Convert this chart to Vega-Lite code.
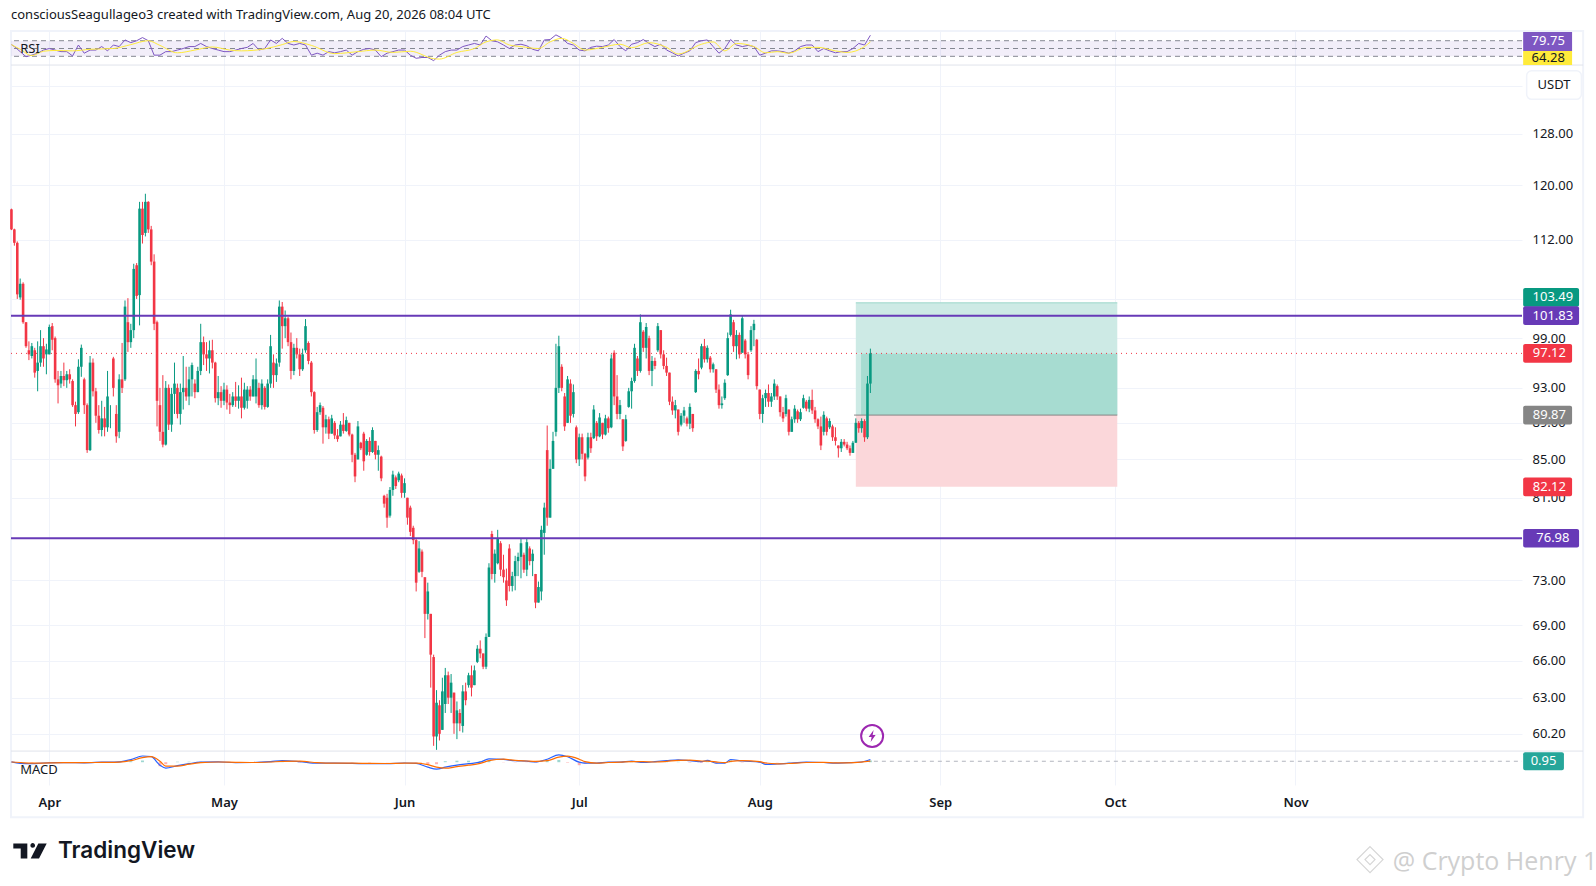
{
"$schema":"https://vega.github.io/schema/vega-lite/v6.json",
"width":1511,"height":754,"autosize":{"type":"none"},
"padding":{"left":11,"top":31,"right":74,"bottom":101},
"background":"#ffffff",
"view":{"stroke":null},
"title":{"text":"consciousSeagullageo3 created with TradingView.com, Aug 20, 2026 08:04 UTC","anchor":"start","frame":"group","offset":8,"font":"Noto Sans","fontSize":13,"fontWeight":"normal","color":"#131722"},
"config":{"text":{"font":"Noto Sans","fontSize":13},"scale":{"continuousPadding":0}},
"datasets":{
"candles":[
{"d":-6.5,"o":116.4,"h":116.5,"l":113.4,"c":113.5},{"d":-6,"o":113.5,"h":113.6,"l":111.2,"c":111.6},{"d":-5.5,"o":111.6,"h":111.8,"l":104,"c":104.6},{"d":-5,"o":104.2,"h":106.7,"l":103.9,"c":106},
{"d":-4.5,"o":106,"h":106.2,"l":100.8,"c":101},{"d":-4,"o":101,"h":101,"l":97.8,"c":98},{"d":-3.5,"o":97.5,"h":98.6,"l":96.3,"c":97},{"d":-3,"o":96.8,"h":98.4,"l":96.5,"c":98},
{"d":-2.5,"o":97.5,"h":97.8,"l":94.2,"c":94.8},{"d":-2,"o":95,"h":98.6,"l":92.6,"c":96},{"d":-1.5,"o":96,"h":100,"l":95.5,"c":98},{"d":-1,"o":98,"h":99,"l":95.5,"c":96.5},
{"d":-0.5,"o":97,"h":98.3,"l":94.6,"c":97.6},{"d":0,"o":97,"h":100.7,"l":97,"c":100.4},{"d":0.5,"o":100.5,"h":100.9,"l":97.5,"c":98.8},{"d":1,"o":99,"h":99.2,"l":93.6,"c":94},
{"d":1.5,"o":94,"h":95,"l":91.2,"c":93.3},{"d":2,"o":93.5,"h":95,"l":93,"c":94.4},{"d":2.5,"o":94.4,"h":96,"l":93.2,"c":93.9},{"d":3,"o":93.9,"h":95,"l":93,"c":94.6},
{"d":3.5,"o":94.6,"h":95.2,"l":93.5,"c":94},{"d":4,"o":93.8,"h":94,"l":90.8,"c":91},{"d":4.5,"o":91,"h":91.4,"l":88.6,"c":90},{"d":5,"o":90.2,"h":96.4,"l":90,"c":95.5},
{"d":5.5,"o":95.5,"h":98.2,"l":94.3,"c":97.8},{"d":6,"o":94,"h":94.2,"l":90,"c":91},{"d":6.5,"o":91,"h":91.2,"l":85.7,"c":86},{"d":7,"o":86,"h":96.8,"l":85.9,"c":96},
{"d":7.5,"o":96,"h":96.5,"l":92,"c":92.6},{"d":8,"o":92.6,"h":93,"l":89,"c":89.8},{"d":8.5,"o":89.8,"h":91,"l":87.8,"c":88.2},{"d":9,"o":88.2,"h":91.5,"l":87.5,"c":89.5},
{"d":9.5,"o":89.5,"h":90.8,"l":87.5,"c":88.5},{"d":10,"o":88.5,"h":95,"l":88,"c":92},{"d":10.5,"o":90,"h":91,"l":88.4,"c":90},{"d":11,"o":96.5,"h":96.7,"l":92,"c":93},
{"d":11.5,"o":90,"h":91,"l":86.8,"c":87.5},{"d":12,"o":88,"h":94.6,"l":87.3,"c":94},{"d":12.5,"o":94,"h":98.4,"l":92.4,"c":93},{"d":13,"o":94,"h":103.8,"l":93.8,"c":103},
{"d":13.5,"o":101,"h":104.1,"l":97.3,"c":98.5},{"d":14,"o":98.5,"h":100.8,"l":97.8,"c":100},{"d":14.5,"o":100,"h":108.7,"l":99,"c":108},{"d":15,"o":108.5,"h":108.8,"l":104,"c":104.4},
{"d":15.5,"o":104.5,"h":117.5,"l":100.6,"c":116.5},{"d":16,"o":116.5,"h":117.5,"l":111.5,"c":112.7},{"d":16.5,"o":113,"h":118.7,"l":112.5,"c":117.5},{"d":17,"o":117.5,"h":117.6,"l":113,"c":113.5},
{"d":17.5,"o":113.5,"h":114,"l":108.5,"c":109},{"d":18,"o":109,"h":110,"l":100,"c":100.8},{"d":18.5,"o":101,"h":101.2,"l":88.6,"c":91.5},{"d":19,"o":91,"h":93,"l":87,"c":88},
{"d":19.5,"o":88,"h":94.5,"l":86.3,"c":86.6},{"d":20,"o":86.6,"h":93.8,"l":86.5,"c":93},{"d":20.5,"o":93,"h":93.4,"l":88.2,"c":88.8},{"d":21,"o":88.8,"h":93,"l":88,"c":92.3},
{"d":21.5,"o":92.3,"h":96,"l":90,"c":93.5},{"d":22,"o":93,"h":93.5,"l":89.5,"c":90},{"d":22.5,"o":90,"h":93.5,"l":88.8,"c":92.5},{"d":23,"o":92.5,"h":96.8,"l":90.5,"c":93},
{"d":23.5,"o":93,"h":95.5,"l":91.5,"c":92},{"d":24,"o":92,"h":95.5,"l":91,"c":94},{"d":24.5,"o":94,"h":96,"l":92,"c":95.7},{"d":25,"o":93.5,"h":94,"l":91.8,"c":92.5},
{"d":25.5,"o":92.5,"h":95.5,"l":92.5,"c":95},{"d":26,"o":95,"h":100.8,"l":94.5,"c":98.5},{"d":26.5,"o":98.5,"h":99.2,"l":95.7,"c":97},{"d":27,"o":97,"h":98.5,"l":95,"c":96.5},
{"d":27.5,"o":96.5,"h":98.7,"l":94.7,"c":97.5},{"d":28,"o":97.5,"h":98.8,"l":95.3,"c":96},{"d":28.5,"o":96,"h":96.1,"l":91.3,"c":91.8},{"d":29,"o":91.8,"h":94.4,"l":91,"c":92.5},
{"d":29.5,"o":92.5,"h":93.2,"l":90.7,"c":91.5},{"d":30,"o":91.5,"h":93.6,"l":91,"c":92.8},{"d":30.5,"o":92.8,"h":93.3,"l":90.5,"c":91.3},{"d":31,"o":91.3,"h":92.3,"l":90,"c":91},
{"d":31.5,"o":91,"h":92.5,"l":90.8,"c":92},{"d":32,"o":92,"h":93.7,"l":90.8,"c":91.5},{"d":32.5,"o":91.5,"h":93.3,"l":90.6,"c":92},{"d":33,"o":92,"h":94.2,"l":89.5,"c":90.7},
{"d":33.5,"o":90.7,"h":93.6,"l":90.5,"c":92.8},{"d":34,"o":91.5,"h":93.2,"l":90.6,"c":92.8},{"d":34.5,"o":92.8,"h":93.2,"l":91.5,"c":92},{"d":35,"o":92,"h":94.5,"l":92,"c":94},
{"d":35.5,"o":92,"h":96.5,"l":91.2,"c":94},{"d":36,"o":93,"h":93.6,"l":90.7,"c":91},{"d":36.5,"o":91,"h":94,"l":90.5,"c":93.5},{"d":37,"o":93,"h":93.2,"l":90.5,"c":90.8},
{"d":37.5,"o":90.8,"h":94,"l":90.7,"c":93.5},{"d":38,"o":93.5,"h":99.4,"l":93,"c":98},{"d":38.5,"o":96,"h":97,"l":93,"c":94.5},{"d":39,"o":94.5,"h":96.5,"l":93.7,"c":95.9},
{"d":39.5,"o":96,"h":103.8,"l":95.5,"c":103},{"d":40,"o":103,"h":103.6,"l":97.7,"c":100.5},{"d":40.5,"o":100.5,"h":102.5,"l":99,"c":101.5},{"d":41,"o":101.5,"h":101.7,"l":98,"c":98.5},
{"d":41.5,"o":98.5,"h":99.7,"l":94,"c":95},{"d":42,"o":95,"h":98.3,"l":94.5,"c":97.8},{"d":42.5,"o":97.8,"h":99,"l":96.5,"c":97},{"d":43,"o":97,"h":97.7,"l":94.4,"c":95.2},
{"d":43.5,"o":95.2,"h":97.7,"l":95,"c":97},{"d":44,"o":97.5,"h":101.4,"l":97.2,"c":100.5},{"d":44.5,"o":98.4,"h":98.6,"l":95.8,"c":96.2},{"d":45,"o":96,"h":96.2,"l":92,"c":92.5},
{"d":45.5,"o":92.5,"h":92.6,"l":87.8,"c":88.2},{"d":46,"o":88.2,"h":90.8,"l":88,"c":90.2},{"d":46.5,"o":90.2,"h":91.3,"l":89.9,"c":91},{"d":47,"o":90.7,"h":90.9,"l":86.7,"c":88.5},
{"d":47.5,"o":88.5,"h":89.9,"l":87.8,"c":89.4},{"d":48,"o":89.4,"h":89.7,"l":87.2,"c":87.8},{"d":48.5,"o":87.8,"h":89.9,"l":87.8,"c":89.5},{"d":49,"o":89,"h":89.2,"l":87.2,"c":87.6},
{"d":49.5,"o":87.6,"h":88.3,"l":86.9,"c":87.2},{"d":50,"o":87.5,"h":89.2,"l":87.5,"c":88.8},{"d":50.5,"o":88.8,"h":90.1,"l":87.8,"c":88.1},{"d":51,"o":88.1,"h":89.7,"l":88,"c":89.3},
{"d":51.5,"o":89,"h":89,"l":87.5,"c":87.7},{"d":52,"o":87.7,"h":87.8,"l":84.7,"c":85.5},{"d":52.5,"o":85.5,"h":85.7,"l":82.6,"c":83.2},{"d":53,"o":85,"h":89.2,"l":85,"c":88.6},
{"d":53.5,"o":86.8,"h":86.9,"l":86,"c":86.2},{"d":54,"o":87.8,"h":88,"l":83.8,"c":84.8},{"d":54.5,"o":85.5,"h":87.2,"l":85.4,"c":87},{"d":55,"o":87,"h":87.4,"l":85.4,"c":85.8},
{"d":55.5,"o":85.8,"h":88.5,"l":85.7,"c":88.2},{"d":56,"o":87,"h":87,"l":85,"c":85.5},{"d":56.5,"o":85.5,"h":86.5,"l":83.8,"c":86},{"d":57,"o":85.3,"h":85.4,"l":82.7,"c":83},
{"d":57.5,"o":81.2,"h":81.3,"l":80,"c":80.4},{"d":58,"o":81,"h":81.4,"l":78,"c":79},{"d":58.5,"o":79.2,"h":82.1,"l":79,"c":81.8},{"d":59,"o":81.8,"h":83.8,"l":81.2,"c":83.4},
{"d":59.5,"o":83.1,"h":83.3,"l":81.9,"c":82.2},{"d":60,"o":82.8,"h":83.7,"l":82.6,"c":83.5},{"d":60.5,"o":83.3,"h":83.5,"l":81,"c":81.5},{"d":61,"o":81.5,"h":83,"l":81,"c":82.5},
{"d":61.5,"o":81,"h":81,"l":78.3,"c":79},{"d":62,"o":80,"h":80.2,"l":77.2,"c":77.6},{"d":62.5,"o":78,"h":78.2,"l":76.4,"c":76.8},{"d":63,"o":76.8,"h":77,"l":72,"c":72.8},
{"d":63.5,"o":73.8,"h":76.7,"l":73.7,"c":76},{"d":64,"o":75.7,"h":75.9,"l":73.3,"c":73.8},{"d":64.5,"o":73.3,"h":73.3,"l":67.9,"c":70},{"d":65,"o":70,"h":72.8,"l":69.5,"c":72},
{"d":65.5,"o":70,"h":70,"l":63.8,"c":66.5},{"d":66,"o":66.3,"h":66.5,"l":59.3,"c":60},{"d":66.5,"o":60,"h":63.6,"l":59,"c":62.6},{"d":67,"o":62.4,"h":62.8,"l":59.7,"c":60.2},
{"d":67.5,"o":60.5,"h":64.6,"l":60.5,"c":63.5},{"d":68,"o":62.5,"h":65.4,"l":61.8,"c":64.8},{"d":68.5,"o":64.8,"h":65.1,"l":62.5,"c":63},{"d":69,"o":63,"h":64.9,"l":61.8,"c":64.2},
{"d":69.5,"o":63.4,"h":63.4,"l":60.2,"c":61},{"d":70,"o":61,"h":62.7,"l":59.8,"c":62},{"d":70.5,"o":61.8,"h":62.1,"l":60.4,"c":61},{"d":71,"o":60.8,"h":64,"l":60.3,"c":63.5},
{"d":71.5,"o":63.5,"h":64.2,"l":62.4,"c":62.8},{"d":72,"o":64,"h":65,"l":63.8,"c":64.8},{"d":72.5,"o":64.8,"h":65.6,"l":63.1,"c":63.8},{"d":73,"o":64,"h":65.6,"l":64,"c":65.2},
{"d":73.5,"o":65.9,"h":67.3,"l":65.8,"c":67},{"d":74,"o":67,"h":67.7,"l":66.2,"c":66.6},{"d":74.5,"o":66.6,"h":66.6,"l":65.3,"c":65.5},{"d":75,"o":65.5,"h":68.3,"l":65.3,"c":68},
{"d":75.5,"o":68,"h":74.6,"l":68,"c":74.2},{"d":76,"o":77.4,"h":77.7,"l":73.1,"c":73.6},{"d":76.5,"o":73.6,"h":75.9,"l":72.8,"c":75.5},{"d":77,"o":74.6,"h":77.8,"l":74.5,"c":77},
{"d":77.5,"o":76.5,"h":76.7,"l":73.4,"c":74},{"d":78,"o":74,"h":75.4,"l":72.8,"c":73.3},{"d":78.5,"o":73,"h":74.1,"l":70.7,"c":71.2},{"d":79,"o":76,"h":76.4,"l":72,"c":72.5},
{"d":79.5,"o":72.5,"h":73.8,"l":72,"c":73.4},{"d":80,"o":73.4,"h":75.3,"l":72.1,"c":74.8},{"d":80.5,"o":74.8,"h":75.6,"l":73.4,"c":75.2},{"d":81,"o":75.2,"h":77,"l":73.2,"c":76.5},
{"d":81.5,"o":75.4,"h":75.6,"l":73.7,"c":74},{"d":82,"o":74,"h":77,"l":73.4,"c":76.6},{"d":82.5,"o":76,"h":76.2,"l":74.4,"c":74.8},{"d":83,"o":74.8,"h":75.9,"l":73.4,"c":75.5},
{"d":83.5,"o":73.6,"h":73.6,"l":70.5,"c":71},{"d":84,"o":71,"h":72.9,"l":71,"c":72.4},{"d":84.5,"o":72,"h":78.2,"l":71.2,"c":77.8},{"d":85,"o":77.5,"h":80.5,"l":75.4,"c":80},
{"d":85.5,"o":86,"h":88.7,"l":78.2,"c":79},{"d":86,"o":79,"h":85,"l":79,"c":84},{"d":86.5,"o":84,"h":88,"l":84,"c":87},{"d":87,"o":88,"h":98.3,"l":87.5,"c":93},
{"d":87.5,"o":93,"h":99.3,"l":92.4,"c":98},{"d":88,"o":95.5,"h":95.8,"l":92.6,"c":93},{"d":88.5,"o":92,"h":92.4,"l":88.1,"c":88.6},{"d":89,"o":89,"h":94.4,"l":89,"c":94},
{"d":89.5,"o":93.5,"h":94,"l":89,"c":89.8},{"d":90,"o":90,"h":93.4,"l":89.6,"c":92.5},{"d":90.5,"o":88.5,"h":88.7,"l":84.6,"c":85},{"d":91,"o":85,"h":87.8,"l":84.3,"c":87.4},
{"d":91.5,"o":87.4,"h":87.8,"l":85,"c":85.6},{"d":92,"o":85.6,"h":85.7,"l":82.7,"c":83.2},{"d":92.5,"o":85.2,"h":87.9,"l":85,"c":87.4},{"d":93,"o":87.4,"h":87.9,"l":85.7,"c":86.2},
{"d":93.5,"o":87.3,"h":91,"l":87.2,"c":90.5},{"d":94,"o":89,"h":89.2,"l":87,"c":87.5},{"d":94.5,"o":87.5,"h":90.1,"l":87.4,"c":89.6},{"d":95,"o":89,"h":89,"l":87.2,"c":87.7},
{"d":95.5,"o":87.7,"h":89.9,"l":87.6,"c":89.5},{"d":96,"o":89.5,"h":89.7,"l":87.9,"c":88.4},{"d":96.5,"o":88.5,"h":97,"l":88.4,"c":96.5},{"d":97,"o":97.2,"h":97.5,"l":91,"c":92},
{"d":97.5,"o":92,"h":94.5,"l":89.4,"c":90},{"d":98,"o":90,"h":91.6,"l":89.4,"c":91},{"d":98.5,"o":89.4,"h":89.4,"l":85.9,"c":86.4},{"d":99,"o":87,"h":89.9,"l":86.9,"c":89.4},
{"d":99.5,"o":90.8,"h":93,"l":90.7,"c":92.6},{"d":100,"o":92.6,"h":94.2,"l":90.6,"c":93.8},{"d":100.5,"o":93.8,"h":98.3,"l":93.6,"c":97.8},{"d":101,"o":96.5,"h":96.8,"l":94.4,"c":95},
{"d":101.5,"o":95,"h":102,"l":94.8,"c":101},{"d":102,"o":99.8,"h":100,"l":97.3,"c":97.8},{"d":102.5,"o":97.8,"h":100.9,"l":96.5,"c":100.4},{"d":103,"o":99,"h":99.3,"l":94.5,"c":95},
{"d":103.5,"o":95,"h":96.8,"l":93.2,"c":96.2},{"d":104,"o":96.2,"h":96.6,"l":95.2,"c":95.6},{"d":104.5,"o":97.5,"h":100.9,"l":97.3,"c":100.5},{"d":105,"o":100,"h":100,"l":96.5,"c":97},
{"d":105.5,"o":97,"h":97.5,"l":95.2,"c":95.6},{"d":106,"o":95.6,"h":96.6,"l":94.4,"c":94.8},{"d":106.5,"o":94.8,"h":94.8,"l":91,"c":91.4},{"d":107,"o":91.4,"h":92,"l":89.9,"c":90.4},
{"d":107.5,"o":90.4,"h":91.6,"l":89.5,"c":91},{"d":108,"o":90.5,"h":90.5,"l":87.6,"c":88},{"d":108.5,"o":88.8,"h":90.1,"l":88.6,"c":89.8},{"d":109,"o":89.8,"h":90.8,"l":89,"c":90.4},
{"d":109.5,"o":89.5,"h":89.7,"l":88.6,"c":88.9},{"d":110,"o":88.9,"h":91.2,"l":88.3,"c":90.8},{"d":110.5,"o":90,"h":90,"l":88,"c":88.4},{"d":111,"o":92.5,"h":95.2,"l":92.4,"c":95},
{"d":111.5,"o":95,"h":96.5,"l":94,"c":94.6},{"d":112,"o":95.4,"h":98.3,"l":95.2,"c":98},{"d":112.5,"o":98,"h":98.9,"l":96,"c":96.4},{"d":113,"o":96.4,"h":98.1,"l":96,"c":97.8},
{"d":113.5,"o":96.6,"h":96.8,"l":94.8,"c":95.2},{"d":114,"o":95.2,"h":96,"l":94.8,"c":95.8},{"d":114.5,"o":95.2,"h":95.2,"l":92.4,"c":92.8},{"d":115,"o":92.8,"h":93.4,"l":90.6,"c":91},
{"d":115.5,"o":91,"h":92,"l":90.6,"c":91.2},{"d":116,"o":91.8,"h":94,"l":91.6,"c":93.6},{"d":116.5,"o":94.5,"h":99.7,"l":94.4,"c":99},{"d":117,"o":99.4,"h":102.6,"l":99.2,"c":102},
{"d":117.5,"o":101,"h":101.3,"l":97.3,"c":98},{"d":118,"o":98,"h":100,"l":96.4,"c":99.4},{"d":118.5,"o":99.4,"h":99.7,"l":96.5,"c":97},{"d":119,"o":97.2,"h":101.9,"l":97.2,"c":101.5},
{"d":119.5,"o":98.7,"h":98.9,"l":96.5,"c":97},{"d":120,"o":97,"h":97.3,"l":94,"c":94.5},{"d":120.5,"o":97.5,"h":100.5,"l":97.3,"c":100},{"d":121,"o":100,"h":101.3,"l":98,"c":100.8},
{"d":121.5,"o":98.8,"h":98.9,"l":92.8,"c":93.2},{"d":122,"o":92.8,"h":92.8,"l":89.4,"c":90},{"d":122.5,"o":90,"h":92.2,"l":89,"c":91.8},{"d":123,"o":91.8,"h":92.8,"l":90.8,"c":92.4},
{"d":123.5,"o":92.4,"h":93.4,"l":90.8,"c":91.4},{"d":124,"o":91.4,"h":92.4,"l":90.8,"c":92},{"d":124.5,"o":92,"h":94,"l":91.6,"c":93.5},{"d":125,"o":93.2,"h":93.4,"l":91.6,"c":92},
{"d":125.5,"o":92,"h":92,"l":89.7,"c":90.2},{"d":126,"o":90.2,"h":90.8,"l":89.1,"c":89.5},{"d":126.5,"o":90,"h":92.2,"l":89.7,"c":91.8},{"d":127,"o":90.5,"h":90.5,"l":87.6,"c":88},
{"d":127.5,"o":88,"h":89.7,"l":88,"c":89.4},{"d":128,"o":89.4,"h":91,"l":89,"c":90.6},{"d":128.5,"o":90.3,"h":90.5,"l":89,"c":89.4},{"d":129,"o":89.4,"h":90.6,"l":89.2,"c":90.2},
{"d":129.5,"o":90.7,"h":92.2,"l":90.6,"c":91.8},{"d":130,"o":91.4,"h":91.6,"l":90.3,"c":90.6},{"d":130.5,"o":90.6,"h":92,"l":90.2,"c":91.6},{"d":131,"o":91.6,"h":92.8,"l":90,"c":90.4},
{"d":131.5,"o":90.4,"h":90.8,"l":89,"c":89.4},{"d":132,"o":89.4,"h":89.5,"l":88.3,"c":88.6},{"d":132.5,"o":88.6,"h":89.7,"l":86,"c":86.5},{"d":133,"o":88,"h":90.3,"l":87.6,"c":89.9},
{"d":133.5,"o":89.5,"h":89.7,"l":87.6,"c":88},{"d":134,"o":88.5,"h":89.5,"l":88.3,"c":89.2},{"d":134.5,"o":88.6,"h":88.8,"l":87,"c":87.4},{"d":135,"o":87.4,"h":88.5,"l":86.5,"c":87},
{"d":135.5,"o":86.5,"h":86.5,"l":85.2,"c":86.2},{"d":136,"o":86.2,"h":87.2,"l":85.8,"c":86.9},{"d":136.5,"o":86.9,"h":87.2,"l":86.4,"c":86.6},{"d":137,"o":86.6,"h":86.9,"l":86,"c":86.2},
{"d":137.5,"o":86.2,"h":86.5,"l":85.4,"c":85.7},{"d":138,"o":85.7,"h":87,"l":85.7,"c":86.8},{"d":138.5,"o":86.8,"h":89.5,"l":86.8,"c":89},{"d":139,"o":89,"h":89.2,"l":87.9,"c":88.4},
{"d":139.5,"o":88.4,"h":89.5,"l":87.9,"c":89.2},{"d":140,"o":89.2,"h":89.4,"l":86.9,"c":87.4},{"d":140.5,"o":87.4,"h":94.4,"l":87.2,"c":93.5},{"d":141,"o":93.5,"h":97.7,"l":92.4,"c":97.12}
],
"rsi":[
{"d":-6.5,"r":60},{"d":-6,"r":55},{"d":-5,"r":42},{"d":-4,"r":29},{"d":-3,"r":33},{"d":-2,"r":38},{"d":-1,"r":46},{"d":0,"r":50},{"d":1,"r":46},{"d":2,"r":42},{"d":3,"r":42},{"d":4,"r":31},{"d":5,"r":59},{"d":6,"r":38},{"d":7,"r":46},{"d":8,"r":46},{"d":9,"r":55},{"d":10,"r":44},{"d":11,"r":59},{"d":12,"r":55},{"d":13,"r":72},{"d":14,"r":65},{"d":15,"r":70},{"d":16,"r":78},{"d":17,"r":70},{"d":18,"r":33},{"d":19,"r":33},{"d":20,"r":42},{"d":21,"r":42},{"d":22,"r":46},{"d":23,"r":50},{"d":24,"r":55},{"d":25,"r":55},{"d":26,"r":63},{"d":27,"r":55},{"d":28,"r":50},{"d":29,"r":46},{"d":30,"r":42},{"d":31,"r":42},{"d":32,"r":46},{"d":33,"r":50},{"d":34,"r":53},{"d":35,"r":63},{"d":36,"r":46},{"d":37,"r":50},{"d":38,"r":72},{"d":39,"r":63},{"d":40,"r":76},{"d":41,"r":63},{"d":42,"r":59},{"d":43,"r":63},{"d":44,"r":59},{"d":45,"r":33},{"d":46,"r":38},{"d":47,"r":33},{"d":48,"r":42},{"d":49,"r":39},{"d":50,"r":42},{"d":51,"r":46},{"d":52,"r":33},{"d":53,"r":42},{"d":54,"r":48},{"d":55,"r":50},{"d":56,"r":46},{"d":57,"r":29},{"d":58,"r":38},{"d":59,"r":42},{"d":60,"r":46},{"d":61,"r":46},{"d":62,"r":33},{"d":63,"r":25},{"d":64,"r":27},{"d":65,"r":27},{"d":66,"r":19},{"d":67,"r":33},{"d":68,"r":42},{"d":69,"r":46},{"d":70,"r":46},{"d":71,"r":55},{"d":72,"r":59},{"d":73,"r":63},{"d":74,"r":59},{"d":75,"r":82},{"d":76,"r":70},{"d":77,"r":67},{"d":78,"r":59},{"d":79,"r":50},{"d":80,"r":59},{"d":81,"r":61},{"d":82,"r":57},{"d":83,"r":48},{"d":84,"r":44},{"d":85,"r":72},{"d":86,"r":73},{"d":87,"r":85},{"d":88,"r":77},{"d":89,"r":63},{"d":90,"r":59},{"d":91,"r":46},{"d":92,"r":44},{"d":93,"r":53},{"d":94,"r":56},{"d":95,"r":55},{"d":96,"r":59},{"d":97,"r":73},{"d":98,"r":55},{"d":99,"r":44},{"d":100,"r":61},{"d":101,"r":65},{"d":102,"r":73},{"d":103,"r":63},{"d":104,"r":55},{"d":105,"r":61},{"d":106,"r":46},{"d":107,"r":39},{"d":108,"r":31},{"d":109,"r":38},{"d":110,"r":44},{"d":111,"r":65},{"d":112,"r":70},{"d":113,"r":72},{"d":114,"r":55},{"d":115,"r":38},{"d":116,"r":50},{"d":117,"r":73},{"d":118,"r":59},{"d":119,"r":55},{"d":120,"r":58},{"d":121,"r":55},{"d":122,"r":33},{"d":123,"r":38},{"d":124,"r":44},{"d":125,"r":44},{"d":126,"r":42},{"d":127,"r":38},{"d":128,"r":44},{"d":129,"r":55},{"d":130,"r":59},{"d":131,"r":59},{"d":132,"r":42},{"d":133,"r":50},{"d":134,"r":44},{"d":135,"r":39},{"d":136,"r":42},{"d":137,"r":42},{"d":138,"r":50},{"d":139,"r":63},{"d":140,"r":59},{"d":141,"r":84}
],
"rsima":[
{"d":-6.5,"m":60},{"d":-5,"m":48},{"d":-3,"m":32},{"d":-1,"m":43},{"d":1,"m":45},{"d":4,"m":44},{"d":7,"m":48},{"d":11,"m":50},{"d":14,"m":60},{"d":17,"m":70},{"d":19,"m":58},{"d":22,"m":39},{"d":25,"m":46},{"d":28,"m":54},{"d":31,"m":46},{"d":33,"m":44},{"d":37,"m":49},{"d":40,"m":60},{"d":42,"m":68},{"d":45,"m":58},{"d":49,"m":37},{"d":53,"m":42},{"d":56,"m":46},{"d":59,"m":40},{"d":62,"m":43},{"d":66,"m":24},{"d":67,"m":23},{"d":70,"m":40},{"d":73,"m":50},{"d":75,"m":67},{"d":77,"m":72},{"d":79,"m":59},{"d":81,"m":55},{"d":84,"m":50},{"d":86,"m":67},{"d":88,"m":76},{"d":90,"m":63},{"d":92,"m":46},{"d":95,"m":53},{"d":98,"m":61},{"d":100,"m":52},{"d":103,"m":65},{"d":106,"m":53},{"d":108,"m":36},{"d":112,"m":61},{"d":114,"m":67},{"d":116,"m":44},{"d":118,"m":63},{"d":121,"m":55},{"d":123,"m":39},{"d":125,"m":42},{"d":127,"m":38},{"d":130,"m":53},{"d":132,"m":53},{"d":135,"m":44},{"d":137,"m":40},{"d":140,"m":55},{"d":141,"m":67}
],
"macd":[
{"d":-6.5,"m":0.3,"s":0.2,"h":0.1},{"d":-5,"m":-1.2,"s":-0.3,"h":-0.9},{"d":-3,"m":-1.5,"s":-1,"h":-0.5},{"d":-1,"m":-0.8,"s":-0.9,"h":0.1},{"d":1,"m":-0.5,"s":-0.6,"h":0.1},{"d":3,"m":-0.4,"s":-0.5,"h":0.1},{"d":6,"m":-0.6,"s":-0.4,"h":-0.2},{"d":9,"m":0,"s":-0.2,"h":0.2},{"d":12,"m":0.4,"s":0.1,"h":0.3},{"d":14,"m":2.5,"s":1.5,"h":1},{"d":16,"m":6.2,"s":4.5,"h":1.7},{"d":17.5,"m":5.5,"s":5.5,"h":0},{"d":19,"m":-3,"s":1,"h":-4},{"d":20,"m":-6,"s":-4,"h":-2},{"d":22,"m":-3.5,"s":-4,"h":0.5},{"d":24,"m":-1.5,"s":-2,"h":0.5},{"d":26,"m":0,"s":-0.5,"h":0.5},{"d":29,"m":0.3,"s":0.2,"h":0.1},{"d":32,"m":-0.4,"s":-0.1,"h":-0.3},{"d":35,"m":-0.3,"s":-0.3,"h":0},{"d":38,"m":0.6,"s":0.2,"h":0.4},{"d":40,"m":1.6,"s":0.8,"h":0.8},{"d":43,"m":0.6,"s":1,"h":-0.4},{"d":46,"m":-1,"s":-0.5,"h":-0.5},{"d":49,"m":-1,"s":-1,"h":0},{"d":52,"m":-1.2,"s":-1,"h":-0.2},{"d":55,"m":-1.5,"s":-1.2,"h":-0.3},{"d":58,"m":-1.5,"s":-1.3,"h":-0.2},{"d":61,"m":-0.8,"s":-1,"h":0.2},{"d":63,"m":-1.2,"s":-1,"h":-0.2},{"d":65,"m":-5,"s":-2.5,"h":-2.5},{"d":66.5,"m":-7,"s":-5,"h":-2},{"d":68,"m":-5,"s":-6,"h":1},{"d":70,"m":-3,"s":-4.5,"h":1.5},{"d":72,"m":-1.5,"s":-3,"h":1.5},{"d":74,"m":0,"s":-1.2,"h":1.2},{"d":75.5,"m":3.4,"s":1.5,"h":1.9},{"d":78,"m":2.8,"s":3,"h":-0.2},{"d":80,"m":1.5,"s":1.8,"h":-0.3},{"d":82,"m":1,"s":1.2,"h":-0.2},{"d":83.5,"m":0.2,"s":0.8,"h":-0.6},{"d":85.5,"m":3,"s":1.5,"h":1.5},{"d":87.5,"m":7.3,"s":5,"h":2.3},{"d":89,"m":5.5,"s":6,"h":-0.5},{"d":91,"m":0,"s":3,"h":-3},{"d":92,"m":-1,"s":0.5,"h":-1.5},{"d":94,"m":-1,"s":-1,"h":0},{"d":96,"m":0,"s":-0.3,"h":0.3},{"d":98,"m":0,"s":0,"h":0},{"d":100,"m":1,"s":0.5,"h":0.5},{"d":102,"m":-0.3,"s":0.5,"h":-0.8},{"d":104,"m":0.5,"s":0.2,"h":0.3},{"d":106,"m":1.5,"s":0.8,"h":0.7},{"d":108,"m":2.3,"s":1.8,"h":0.5},{"d":110,"m":1.5,"s":2,"h":-0.5},{"d":112,"m":0.5,"s":1.2,"h":-0.7},{"d":113,"m":1.8,"s":1,"h":0.8},{"d":114.5,"m":-1,"s":0.3,"h":-1.3},{"d":116,"m":-1,"s":-0.5,"h":-0.5},{"d":117,"m":2.7,"s":0.8,"h":1.9},{"d":119,"m":1.2,"s":1.6,"h":-0.4},{"d":122,"m":0,"s":0.6,"h":-0.6},{"d":123,"m":-2.3,"s":-0.8,"h":-1.5},{"d":125,"m":-1.8,"s":-1.6,"h":-0.2},{"d":127,"m":-1,"s":-1.3,"h":0.3},{"d":130,"m":0,"s":-0.3,"h":0.3},{"d":133,"m":-0.3,"s":-0.2,"h":-0.1},{"d":135,"m":-1,"s":-0.6,"h":-0.4},{"d":137,"m":-0.5,"s":-0.6,"h":0.1},{"d":139.4,"m":0.2,"s":0,"h":0.2},{"d":141,"m":2.7,"s":1,"h":1.7}
],
"wideBadges":[{"at":104.21,"label":"103.49","k":"target"},{"at":101.83,"label":"101.83","k":"level"},{"at":76.98,"label":"76.98","k":"level"}],
"narrowBadges":[{"at":97.12,"label":"97.12","k":"last"},{"at":89.87,"label":"89.87","k":"entry"},{"at":82.12,"label":"82.12","k":"last"}]
},
"layer":[
{"layer":[
{"data":{"values":[{}]},"mark":{"type":"rect","fill":"#ffffff","fillOpacity":0,"stroke":"#f0f3fa","strokeWidth":2},
 "encoding":{"x":{"datum":-6.577,"type":"quantitative","title":null,"scale":{"domain":[-6.577,252.9],"nice":false,"zero":false},
   "axis":{"values":[0,30,61,91,122,153,183,214],"labelExpr":"timeFormat(datetime(2026,3,1+datum.value),'%b')","grid":true,"gridColor":"#f0f3fa","domain":false,"ticks":false,"labelPadding":11,"labelFont":"Noto Sans","labelFontSize":13,"labelFontWeight":600,"labelColor":"#131722","title":null}},
  "x2":{"datum":263.4},
  "y":{"datum":54.2,"type":"quantitative","title":null,"scale":{"type":"log","domain":[56.45,145.65],"nice":false},
   "axis":{"orient":"right","values":[136,128,120,112,104,99,93,89,85,81,77,73,69,66,63,60.2],"labelExpr":"indexof([136,104,77],datum.value)>=0?'':format(datum.value,'.2f')","grid":true,"gridColor":"#f0f3fa","domain":false,"ticks":false,"labelPadding":10,"labelFont":"Noto Sans","labelFontSize":13,"labelColor":"#131722","title":null}},
  "y2":{"datum":145.65}}},
{"data":{"values":[{"p":139.55},{"p":58.91}]},"mark":{"type":"rule","stroke":"#e0e3eb","strokeWidth":1},
 "encoding":{"x":{"datum":-6.577,"type":"quantitative","scale":{"domain":[-6.577,252.9],"nice":false,"zero":false}},"x2":{"datum":263.4},
  "y":{"field":"p","type":"quantitative","scale":{"type":"log","domain":[56.45,145.65],"nice":false}}}},
{"data":{"values":[{"a":138.5,"b":183.4,"top":103.49,"bot":97.12,"k":"reward"},{"a":138.5,"b":183.4,"top":97.12,"bot":89.87,"k":"reward"},{"a":139.4,"b":183.4,"top":97.12,"bot":89.87,"k":"open"},{"a":138.5,"b":183.4,"top":89.87,"bot":82.12,"k":"risk"}]},
 "mark":{"type":"rect"},
 "encoding":{"x":{"field":"a","type":"quantitative","scale":{"domain":[-6.577,252.9],"nice":false,"zero":false}},"x2":{"field":"b"},
  "y":{"field":"top","type":"quantitative","scale":{"type":"log","domain":[56.45,145.65],"nice":false}},"y2":{"field":"bot"},
  "color":{"field":"k","type":"nominal","legend":null,"scale":{"domain":["reward","open","risk","target","level","last","entry"],"range":["#cdeae5","#a7dcd1","#fbd7da","#089981","#673ab7","#f23645","#858585"]}}}},
{"data":{"values":[{"p":103.49}]},"mark":{"type":"rule","stroke":"#9bd6ca","strokeWidth":1},
 "encoding":{"x":{"datum":138.5,"type":"quantitative","scale":{"domain":[-6.577,252.9],"nice":false,"zero":false}},"x2":{"datum":183.4},
  "y":{"field":"p","type":"quantitative","scale":{"type":"log","domain":[56.45,145.65],"nice":false}}}},
{"data":{"values":[{"p":89.87}]},"mark":{"type":"rule","stroke":"#858585","strokeWidth":1},
 "encoding":{"x":{"datum":138.2,"type":"quantitative","scale":{"domain":[-6.577,252.9],"nice":false,"zero":false}},"x2":{"datum":183.4},
  "y":{"field":"p","type":"quantitative","scale":{"type":"log","domain":[56.45,145.65],"nice":false}}}},
{"data":{"values":[{"p":97.12}]},"mark":{"type":"rule","stroke":"#f23645","strokeWidth":1,"strokeDash":[1,4]},
 "encoding":{"y":{"field":"p","type":"quantitative","scale":{"type":"log","domain":[56.45,145.65],"nice":false}}}},
{"data":{"name":"candles"},"mark":{"type":"rule","strokeWidth":1},
 "encoding":{"x":{"field":"d","type":"quantitative","scale":{"domain":[-6.577,252.9],"nice":false,"zero":false}},
  "y":{"field":"l","type":"quantitative","scale":{"type":"log","domain":[56.45,145.65],"nice":false}},"y2":{"field":"h"},
  "color":{"condition":{"test":"datum.c>=datum.o","value":"#089981"},"value":"#f23645"}}},
{"data":{"name":"candles"},"mark":{"type":"bar","width":2.6},
 "encoding":{"x":{"field":"d","type":"quantitative","scale":{"domain":[-6.577,252.9],"nice":false,"zero":false}},
  "y":{"field":"o","type":"quantitative","scale":{"type":"log","domain":[56.45,145.65],"nice":false}},"y2":{"field":"c"},
  "color":{"condition":{"test":"datum.c>=datum.o","value":"#089981"},"value":"#f23645"}}},
{"data":{"values":[{"p":101.83},{"p":76.98}]},"mark":{"type":"rule","stroke":"#673ab7","strokeWidth":2},
 "encoding":{"y":{"field":"p","type":"quantitative","scale":{"type":"log","domain":[56.45,145.65],"nice":false}}}},
{"data":{"name":"wideBadges"},"mark":{"type":"bar","height":18.7,"cornerRadius":2},
 "encoding":{"x":{"datum":253.1,"type":"quantitative","scale":{"domain":[-6.577,252.9],"nice":false,"zero":false}},"x2":{"datum":262.7},
  "y":{"field":"at","type":"quantitative","scale":{"type":"log","domain":[56.45,145.65],"nice":false}},
  "color":{"field":"k","type":"nominal","legend":null,"scale":{"domain":["reward","open","risk","target","level","last","entry"],"range":["#cdeae5","#a7dcd1","#fbd7da","#089981","#673ab7","#f23645","#858585"]}}}},
{"data":{"name":"narrowBadges"},"mark":{"type":"bar","height":18.7,"cornerRadius":2},
 "encoding":{"x":{"datum":253.1,"type":"quantitative","scale":{"domain":[-6.577,252.9],"nice":false,"zero":false}},"x2":{"datum":261.5},
  "y":{"field":"at","type":"quantitative","scale":{"type":"log","domain":[56.45,145.65],"nice":false}},
  "color":{"field":"k","type":"nominal","legend":null,"scale":{"domain":["reward","open","risk","target","level","last","entry"],"range":["#cdeae5","#a7dcd1","#fbd7da","#089981","#673ab7","#f23645","#858585"]}}}},
{"data":{"name":"wideBadges"},"mark":{"type":"text","color":"#ffffff"},
 "encoding":{"x":{"datum":258.2,"type":"quantitative","scale":{"domain":[-6.577,252.9],"nice":false,"zero":false}},
  "y":{"field":"at","type":"quantitative","scale":{"type":"log","domain":[56.45,145.65],"nice":false}},"text":{"field":"label"}}},
{"data":{"name":"narrowBadges"},"mark":{"type":"text","color":"#ffffff"},
 "encoding":{"x":{"datum":257.6,"type":"quantitative","scale":{"domain":[-6.577,252.9],"nice":false,"zero":false}},
  "y":{"field":"at","type":"quantitative","scale":{"type":"log","domain":[56.45,145.65],"nice":false}},"text":{"field":"label"}}},
{"data":{"values":[{}]},"mark":{"type":"rect","fill":"#ffffff","stroke":"#f0f3fa","strokeWidth":1.5,"cornerRadius":5},
 "encoding":{"x":{"datum":253.7,"type":"quantitative","scale":{"domain":[-6.577,252.9],"nice":false,"zero":false}},"x2":{"datum":263.1},
  "y":{"datum":138.56,"type":"quantitative","scale":{"type":"log","domain":[56.45,145.65],"nice":false}},"y2":{"datum":133.66}}},
{"data":{"values":[{"label":"USDT"}]},"mark":{"type":"text","color":"#131722"},
 "encoding":{"x":{"datum":258.4,"type":"quantitative","scale":{"domain":[-6.577,252.9],"nice":false,"zero":false}},
  "y":{"datum":136.09,"type":"quantitative","scale":{"type":"log","domain":[56.45,145.65],"nice":false}},"text":{"field":"label"}}},
{"data":{"values":[{}]},"mark":{"type":"point","shape":"circle","filled":false,"stroke":"#9c27b0","strokeWidth":2,"size":484,"opacity":1},
 "encoding":{"x":{"datum":141.3,"type":"quantitative","scale":{"domain":[-6.577,252.9],"nice":false,"zero":false}},
  "y":{"datum":60.04,"type":"quantitative","scale":{"type":"log","domain":[56.45,145.65],"nice":false}}}},
{"data":{"values":[{}]},"mark":{"type":"point","filled":true,"opacity":1,"fill":"#9c27b0","size":4,"shape":"M1.5 -6 L-3.5 1 H-0.5 L-1.5 6 L3.5 -1 H0.5 Z"},
 "encoding":{"x":{"datum":141.3,"type":"quantitative","scale":{"domain":[-6.577,252.9],"nice":false,"zero":false}},
  "y":{"datum":60.04,"type":"quantitative","scale":{"type":"log","domain":[56.45,145.65],"nice":false}}}},
{"data":{"values":[{}]},"mark":{"type":"point","filled":true,"opacity":1,"fill":"#131722","size":4,"shape":"M-17.7 -7.2 H-3.7 V7.8 H-10.3 V-2.2 H-17.7 Z M-0.6 -5.2 A2.3 2.3 0 1 0 4 -5.2 A2.3 2.3 0 1 0 -0.6 -5.2 Z M7.3 -7.2 H15.7 L8 7.8 H-0.3 Z"},
 "encoding":{"x":{"datum":-3.14,"type":"quantitative","scale":{"domain":[-6.577,252.9],"nice":false,"zero":false}},
  "y":{"datum":51.98,"type":"quantitative","scale":{"type":"log","domain":[56.45,145.65],"nice":false}}}},
{"data":{"values":[{"label":"TradingView"}]},"mark":{"type":"text","align":"left","font":"Inter","fontSize":22.5,"fontWeight":600,"color":"#131722"},
 "encoding":{"x":{"datum":1.5,"type":"quantitative","scale":{"domain":[-6.577,252.9],"nice":false,"zero":false}},
  "y":{"datum":51.98,"type":"quantitative","scale":{"type":"log","domain":[56.45,145.65],"nice":false}},"text":{"field":"label"}}},
{"data":{"values":[{"label":"@ Crypto Henry 1"}]},"mark":{"type":"text","align":"left","font":"Open Sans","fontSize":25,"color":"#cfcfcf"},
 "encoding":{"x":{"datum":230.7,"type":"quantitative","scale":{"domain":[-6.577,252.9],"nice":false,"zero":false}},
  "y":{"datum":51.24,"type":"quantitative","scale":{"type":"log","domain":[56.45,145.65],"nice":false}},"text":{"field":"label"}}},
{"data":{"values":[{}]},"mark":{"type":"point","filled":false,"stroke":"#d6d6d6","strokeWidth":1.2,"opacity":1,"size":4,"shape":"M0 -13 L13 0 L0 13 L-13 0 Z M0 -5 L5 0 L0 5 L-5 0 Z"},
 "encoding":{"x":{"datum":226.8,"type":"quantitative","scale":{"domain":[-6.577,252.9],"nice":false,"zero":false}},
  "y":{"datum":51.4,"type":"quantitative","scale":{"type":"log","domain":[56.45,145.65],"nice":false}}}}
]},
{"layer":[
{"data":{"values":[{}]},"mark":{"type":"rect","fill":"#7e57c2","opacity":0.1},
 "encoding":{"y":{"datum":70,"type":"quantitative","axis":null,"scale":{"domain":[-1838,94.9],"nice":false,"zero":false}},"y2":{"datum":30}}},
{"data":{"values":[{"v":70},{"v":50},{"v":30}]},"mark":{"type":"rule","stroke":"#787b86","strokeWidth":1,"strokeDash":[5,4],"opacity":0.9},
 "encoding":{"y":{"field":"v","type":"quantitative","axis":null,"scale":{"domain":[-1838,94.9],"nice":false,"zero":false}}}},
{"data":{"name":"rsi"},"mark":{"type":"line","stroke":"#7e57c2","strokeWidth":1},
 "encoding":{"x":{"field":"d","type":"quantitative","scale":{"domain":[-6.577,252.9],"nice":false,"zero":false}},
  "y":{"field":"r","type":"quantitative","axis":null,"scale":{"domain":[-1838,94.9],"nice":false,"zero":false}}}},
{"data":{"name":"rsima"},"mark":{"type":"line","stroke":"#ffeb3b","strokeWidth":1,"interpolate":"monotone"},
 "encoding":{"x":{"field":"d","type":"quantitative","scale":{"domain":[-6.577,252.9],"nice":false,"zero":false}},
  "y":{"field":"m","type":"quantitative","axis":null,"scale":{"domain":[-1838,94.9],"nice":false,"zero":false}}}},
{"data":{"values":[{"label":"RSI"}]},"mark":{"type":"text","align":"left","color":"#131722"},
 "encoding":{"x":{"datum":-5,"type":"quantitative","scale":{"domain":[-6.577,252.9],"nice":false,"zero":false}},
  "y":{"datum":50,"type":"quantitative","axis":null,"scale":{"domain":[-1838,94.9],"nice":false,"zero":false}},"text":{"field":"label"}}},
{"data":{"values":[{"top":92.3,"bot":43.6,"k":"rsi"},{"top":43.6,"bot":7.7,"k":"ma"}]},"mark":{"type":"rect"},
 "encoding":{"x":{"datum":253.1,"type":"quantitative","scale":{"domain":[-6.577,252.9],"nice":false,"zero":false}},"x2":{"datum":261.5},
  "y":{"field":"top","type":"quantitative","axis":null,"scale":{"domain":[-1838,94.9],"nice":false,"zero":false}},"y2":{"field":"bot"},
  "color":{"field":"k","type":"nominal","legend":null,"scale":{"domain":["rsi","ma"],"range":["#7e57c2","#ffeb3b"]}}}},
{"data":{"values":[{"at":68,"label":"79.75"}]},"mark":{"type":"text","color":"#ffffff"},
 "encoding":{"x":{"datum":257.4,"type":"quantitative","scale":{"domain":[-6.577,252.9],"nice":false,"zero":false}},
  "y":{"field":"at","type":"quantitative","axis":null,"scale":{"domain":[-1838,94.9],"nice":false,"zero":false}},"text":{"field":"label"}}},
{"data":{"values":[{"at":25.6,"label":"64.28"}]},"mark":{"type":"text","color":"#131722"},
 "encoding":{"x":{"datum":257.4,"type":"quantitative","scale":{"domain":[-6.577,252.9],"nice":false,"zero":false}},
  "y":{"field":"at","type":"quantitative","axis":null,"scale":{"domain":[-1838,94.9],"nice":false,"zero":false}},"text":{"field":"label"}}}
]},
{"layer":[
{"data":{"name":"macd"},"mark":{"type":"bar","width":3,"opacity":0.45},
 "encoding":{"x":{"field":"d","type":"quantitative","scale":{"domain":[-6.577,252.9],"nice":false,"zero":false}},
  "y":{"field":"h","type":"quantitative","axis":null,"scale":{"domain":[-22.8,731.2],"nice":false,"zero":false}},"y2":{"datum":0},
  "color":{"condition":{"test":"datum.h>=0","value":"#26a69a"},"value":"#ff5252"}}},
{"data":{"name":"macd"},"mark":{"type":"line","stroke":"#2962ff","strokeWidth":1.2,"interpolate":"monotone"},
 "encoding":{"x":{"field":"d","type":"quantitative","scale":{"domain":[-6.577,252.9],"nice":false,"zero":false}},
  "y":{"field":"m","type":"quantitative","axis":null,"scale":{"domain":[-22.8,731.2],"nice":false,"zero":false}}}},
{"data":{"name":"macd"},"mark":{"type":"line","stroke":"#ff6d00","strokeWidth":1.2,"interpolate":"monotone"},
 "encoding":{"x":{"field":"d","type":"quantitative","scale":{"domain":[-6.577,252.9],"nice":false,"zero":false}},
  "y":{"field":"s","type":"quantitative","axis":null,"scale":{"domain":[-22.8,731.2],"nice":false,"zero":false}}}},
{"data":{"values":[{"v":0.95}]},"mark":{"type":"rule","stroke":"#b2b5be","strokeWidth":1,"strokeDash":[4,4]},
 "encoding":{"x":{"datum":141.6,"type":"quantitative","scale":{"domain":[-6.577,252.9],"nice":false,"zero":false}},"x2":{"datum":252.9},
  "y":{"field":"v","type":"quantitative","axis":null,"scale":{"domain":[-22.8,731.2],"nice":false,"zero":false}}}},
{"data":{"values":[{"v":0.95}]},"mark":{"type":"bar","height":18,"color":"#26a69a","cornerRadius":2},
 "encoding":{"x":{"datum":253.1,"type":"quantitative","scale":{"domain":[-6.577,252.9],"nice":false,"zero":false}},"x2":{"datum":260.1},
  "y":{"field":"v","type":"quantitative","axis":null,"scale":{"domain":[-22.8,731.2],"nice":false,"zero":false}}}},
{"data":{"values":[{"v":0.95,"label":"0.95"}]},"mark":{"type":"text","color":"#ffffff"},
 "encoding":{"x":{"datum":256.6,"type":"quantitative","scale":{"domain":[-6.577,252.9],"nice":false,"zero":false}},
  "y":{"field":"v","type":"quantitative","axis":null,"scale":{"domain":[-22.8,731.2],"nice":false,"zero":false}},"text":{"field":"label"}}},
{"data":{"values":[{"label":"MACD"}]},"mark":{"type":"text","align":"left","color":"#131722"},
 "encoding":{"x":{"datum":-5,"type":"quantitative","scale":{"domain":[-6.577,252.9],"nice":false,"zero":false}},
  "y":{"datum":-7.5,"type":"quantitative","axis":null,"scale":{"domain":[-22.8,731.2],"nice":false,"zero":false}},"text":{"field":"label"}}}
]}
],
"resolve":{"scale":{"y":"independent","color":"independent"},"axis":{"y":"independent"}}
}
